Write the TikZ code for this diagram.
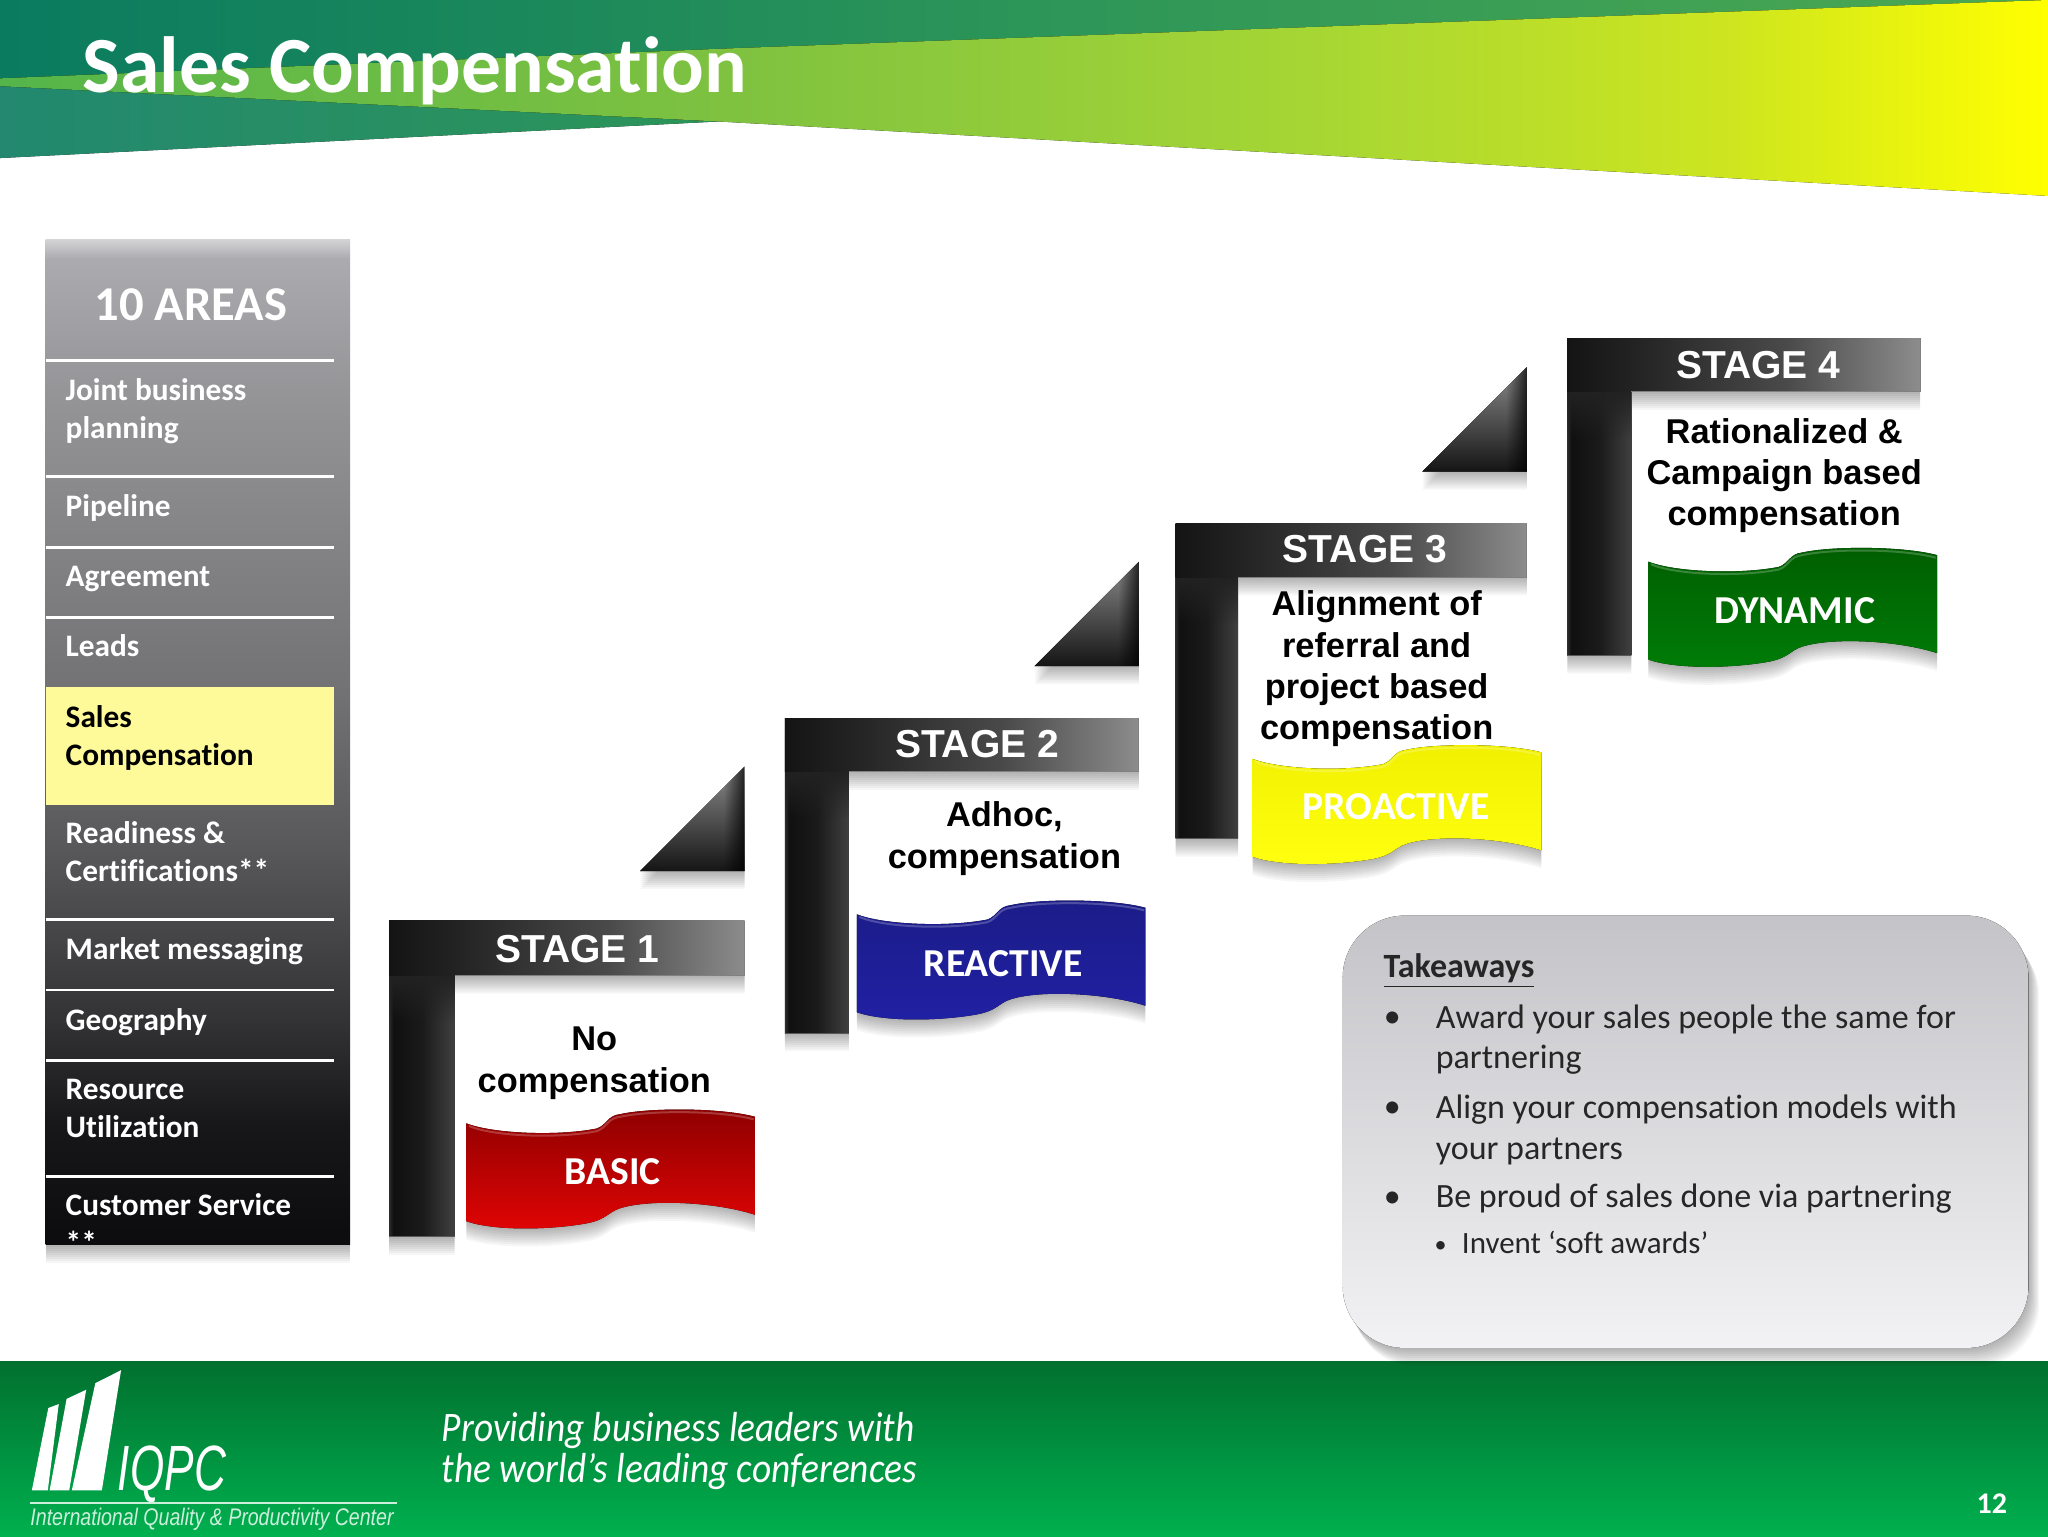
\documentclass[tikz,border=0pt]{standalone}
\usepackage{fontspec}
\usepackage{graphicx}
\usetikzlibrary{fadings}
\setmainfont[Ligatures=NoCommon]{Carlito}
\newfontfamily\arialf{Liberation Sans}
\newfontfamily\tagf[FakeStretch=0.89,Ligatures=NoCommon]{Carlito}
\definecolor{lA}{HTML}{55B54A}\definecolor{lB}{HTML}{7FC240}\definecolor{lC}{HTML}{A6D634}\definecolor{lD}{HTML}{CCE520}\definecolor{lE}{HTML}{FFFF00}
\definecolor{tA}{HTML}{0A7B5F}\definecolor{tB}{HTML}{2C9558}\definecolor{tC}{HTML}{4CA852}
\definecolor{pA}{HTML}{D4D4D6}\definecolor{pB}{HTML}{ABABAF}\definecolor{pC}{HTML}{959598}\definecolor{pC2}{HTML}{727275}\definecolor{pD}{HTML}{58585B}\definecolor{pE}{HTML}{333335}\definecolor{pF}{HTML}{171719}\definecolor{pG}{HTML}{0C0C0E}
\definecolor{hA}{HTML}{141414}\definecolor{hB}{HTML}{222222}\definecolor{hC}{HTML}{4A4A4A}\definecolor{hD}{HTML}{8C8C8C}
\definecolor{vA}{HTML}{2C2C2C}\definecolor{vB}{HTML}{101010}\definecolor{vC}{HTML}{1A1A1A}\definecolor{vD}{HTML}{404040}
\definecolor{fA}{HTML}{01702F}\definecolor{fB}{HTML}{00B04F}
\definecolor{boxA}{HTML}{C4C4C8}\definecolor{boxB}{HTML}{F2F2F4}
\definecolor{rA}{HTML}{8E0000}\definecolor{rB}{HTML}{E00404}
\definecolor{bA}{HTML}{1C1C88}\definecolor{bB}{HTML}{2020A4}
\definecolor{yA}{HTML}{F0F000}\definecolor{yB}{HTML}{FFFF10}
\definecolor{gA}{HTML}{005E00}\definecolor{gB}{HTML}{007C08}
\pgfdeclarehorizontalshading{limesh}{100bp}{color(0bp)=(lA);color(25bp)=(lA);color(43bp)=(lB);color(57bp)=(lC);color(67bp)=(lD);color(75bp)=(lE);color(100bp)=(lE)}
\pgfdeclarehorizontalshading{topsh}{100bp}{color(0bp)=(tA);color(25bp)=(tA);color(50bp)=(tB);color(75bp)=(tC);color(100bp)=(tC)}
\pgfdeclareverticalshading{panelsh}{100bp}{color(0bp)=(pG);color(25bp)=(pG);color(31bp)=(pF);color(36.2bp)=(pE);color(44.7bp)=(pD);color(52.5bp)=(pC2);color(67.4bp)=(pC);color(74bp)=(pB);color(75bp)=(pA);color(100bp)=(pA)}
\pgfdeclarehorizontalshading{armsh}{100bp}{color(0bp)=(hA);color(25bp)=(hA);color(34bp)=(hB);color(56bp)=(hC);color(75bp)=(hD);color(100bp)=(hD)}
\pgfdeclarehorizontalshading{postsh}{100bp}{color(0bp)=(vA);color(25bp)=(vA);color(28bp)=(vB);color(50bp)=(vC);color(75bp)=(vD);color(100bp)=(vD)}
\tikzset{
  titletxt/.style={inner sep=0,text=white,font=\fontsize{39.8}{48}\selectfont\bfseries,anchor=mid west},
  sidetxt/.style={inner sep=0,text=white,font=\fontsize{15.65}{19}\selectfont\bfseries,anchor=west,align=left},
  stagetxt/.style={inner sep=0,text=white,font=\arialf\fontsize{19.5}{23}\selectfont\bfseries,anchor=mid},
  desctxt/.style={inner sep=0,text=black,font=\arialf\fontsize{17.2}{20.6}\selectfont\bfseries,align=center},
  wavetxt/.style={inner sep=0,text=white,font=\fontsize{19.8}{22}\selectfont\bfseries,anchor=mid},
  bodytxt/.style={inner sep=0,text=black!85,font=\fontsize{17}{20.2}\selectfont,anchor=west,align=left},
  subtxt/.style={inner sep=0,text=black!85,font=\fontsize{15.5}{18}\selectfont,anchor=mid west},
  tagtxt/.style={inner sep=0,text=white,font=\tagf\fontsize{21}{20.4}\selectfont\itshape,anchor=west,align=left},
  sepline/.style={draw=white,line width=1.4pt},
}
% soft shadow falling below a path given as #1; \sdx is its sideways share
\newcommand\sdx{0}
\newcommand\softshade[1]{%
  \foreach \s in {1,2,...,9}{\path[fill=black,fill opacity=.035,xshift=\s*\sdx*1pt,yshift=-\s*1pt] #1;}}
\newcommand\stagebar[6]{% x0 top innerx innery right bottom
  \softshade{(#1,#2) -- (#5,#2) -- (#5,#4) -- (#3,#4) -- (#3,#6) -- (#1,#6) -- cycle}
  \fill[shading=postsh] (#1,#2) rectangle (#3,#6);
  \fill[hB,path fading=south] (#1,#4) rectangle (#3,#4+36);
  \fill[shading=armsh] (#1,#2) rectangle (#5,#4);
  \draw[draw=white!50!black,line width=.5pt] (#3,#4) -- (#5,#4) -- (#5,#2);
  \draw[draw=white!35!black,line width=.5pt] (#1,#6) -- (#3,#6);
}
\newcommand\tri[3]{% right-angle corner x y, size
  \softshade{(#1-#3,#2) -- (#1,#2) -- (#1,#2-#3) -- cycle}
  \fill[top color=black!45,bottom color=black!92] (#1-#3,#2) -- (#1,#2) -- (#1,#2-#3) -- cycle;
  \begin{scope}
    \clip (#1-#3,#2) -- (#1,#2) -- (#1,#2-#3) -- cycle;
    \fill[black,opacity=.75,path fading=west] (#1-16,#2-#3) rectangle (#1,#2);
  \end{scope}
}
\newcommand\wavepath{(0,0) .. controls (20,8) and (70,10) .. (100,4) .. controls (108,1) and (108,-6) .. (118,-7) .. controls (140,-12) and (195,-12) .. (221,-5) -- (221,70) .. controls (190,60) and (140,58) .. (118,65) .. controls (108,68) and (108,74) .. (90,77) .. controls (60,82) and (20,82) .. (0,75) -- cycle}
\newcommand\wave[4]{% x y topcolor bottomcolor
  \begin{scope}[shift={(#1,#2)}]
    \softshade{\wavepath}
    \fill[top color=#3,bottom color=#4] \wavepath;
    \draw[draw=white,draw opacity=.22,line width=1pt] (2,2) .. controls (20,10) and (70,12) .. (100,6) .. controls (108,3) and (108,-4) .. (118,-5) .. controls (140,-10) and (195,-10) .. (220,-3);
  \end{scope}}
\begin{document}
\begin{tikzpicture}[x=0.65306pt,y=-0.65306pt]
\useasboundingbox (0,0) rectangle (1568,1176);
\fill[white] (0,0) rectangle (1568,1176);
% header
\fill[shading=topsh] (0,0) -- (1568,0) -- (1568,2) -- (560,38) -- (0,62) -- cycle;
\fill[left color=white!10!tA,right color=tB] (0,64) -- (550,93) -- (0,121) -- cycle;
\fill[shading=limesh] (0,60) -- (560,37) -- (1568,0) -- (1568,150) -- (550,93) -- (0,66) -- cycle;
\node[titletxt] (title) at (63,67) {Sales Compensation};
% footer
\fill[top color=fA,bottom color=fB] (0,1042) rectangle (1568,1176);
\fill[white] (24.4,1141) -- (37,1078) -- (45,1075) -- (36.6,1141) -- cycle;
\fill[white] (38,1141) -- (51,1071) -- (66,1064) -- (53,1141) -- cycle;
\fill[white] (55,1141) -- (73,1059) -- (92.7,1049) -- (78,1141) -- cycle;
\node[inner sep=0,anchor=base west,text=white,font=\arialf\fontsize{32}{32}\selectfont\itshape] (iqpc) at (90,1141) {\scalebox{.69}[1]{IQPC}};
\draw[draw=white!80!fB,line width=1pt] (23,1151) -- (304,1151);
\node[inner sep=0,anchor=mid west,text=white!80!fB,font=\arialf\fontsize{12}{14}\selectfont\itshape] (intl) at (23,1164) {\scalebox{.815}[1]{International Quality \& Productivity Center}};
\node[tagtxt] (tag) at (338,1111) {Providing business leaders with\\the world’s leading conferences};
\node[inner sep=0,text=white,font=\fontsize{15}{17}\selectfont\bfseries,anchor=mid] (pagenum) at (1525,1155) {12};
% left panel
\softshade{(35,183) rectangle (268,953)}
\begin{scope}
\clip (35,183) rectangle (268,953);
\fill[shading=panelsh] (35,183) rectangle (268,953);
\fill[fill=yellow!40] (35,526) rectangle (256,616);
\foreach \yy in {276,365,419,473,704,758,812,901}{\draw[sepline] (35,\yy) -- (256,\yy);}
\node[inner sep=0,text=white,font=\fontsize{24.3}{28}\selectfont\bfseries,anchor=mid] (areas) at (146,242) {10 AREAS};
\node[sidetxt] (a1) at (50,315) {Joint business\\planning};
\node[sidetxt,anchor=mid west] (a2) at (50,392) {Pipeline};
\node[sidetxt,anchor=mid west] (a3) at (50,445) {Agreement};
\node[sidetxt,anchor=mid west] (a4) at (50,499) {Leads};
\node[sidetxt,text=black] (a5) at (50,565) {Sales\\Compensation};
\node[sidetxt] (a6) at (50,652) {Readiness \&\\Certifications**};
\node[sidetxt,anchor=mid west] (a7) at (50,731) {Market messaging};
\node[sidetxt,anchor=mid west] (a8) at (50,785) {Geography};
\node[sidetxt] (a9) at (50,849) {Resource\\Utilization};
\node[sidetxt] (a10) at (50,937) {Customer Service\\**};
\end{scope}
% stages
\stagebar{298}{705}{348}{747}{570}{947}
\stagebar{601}{550}{650}{591}{872}{791}
\stagebar{900}{401}{948}{442}{1169}{642}
\stagebar{1200}{259}{1249}{300}{1470}{502}
\node[stagetxt] (s1) at (442,733) {STAGE 1};
\node[stagetxt] (s2) at (748,576) {STAGE 2};
\node[stagetxt] (s3) at (1045,427) {STAGE 3};
\node[stagetxt] (s4) at (1346,286) {STAGE 4};
\tri{570}{667}{80}
\tri{872}{510}{80}
\tri{1169}{361}{80}
\wave{357}{860}{rA}{rB}
\wave{656}{700}{bA}{bB}
\wave{959}{581}{yA}{yB}
\wave{1262}{430}{gA}{gB}
\node[wavetxt] (w1) at (469,903) {BASIC};
\node[wavetxt] (w2) at (768,744) {REACTIVE};
\node[wavetxt] (w3) at (1069,624) {PROACTIVE};
\node[wavetxt] (w4) at (1374,474) {DYNAMIC};
\node[desctxt] (d1) at (455,814) {No\\compensation};
\node[desctxt] (d2) at (769,642) {Adhoc,\\compensation};
\node[desctxt] (d3) at (1054,512) {Alignment of\\referral and\\project based\\compensation};
\node[desctxt] (d4) at (1366,364) {Rationalized \&\\Campaign based\\compensation};
% takeaways
\begingroup
\renewcommand\sdx{0.6}
\softshade{[rounded corners=31pt] (1028,701) rectangle (1553,1032)}
\endgroup
\fill[top color=boxA,bottom color=boxB,rounded corners=31pt] (1028,701) rectangle (1553,1032);
\node[bodytxt,anchor=mid west] (tk) at (1059,745) {\underline{\textbf{Takeaways}}};
\node[bodytxt,anchor=mid] (b1) at (1066,783) {•};
\node[bodytxt] (t1) at (1099,796) {Award your sales people the same for\\partnering};
\node[bodytxt,anchor=mid] (b2) at (1066,852) {•};
\node[bodytxt] (t2) at (1099,865) {Align your compensation models with\\your partners};
\node[bodytxt,anchor=mid] (b3) at (1066,921) {•};
\node[bodytxt,anchor=mid west] (t3) at (1099,921) {Be proud of sales done via partnering};
\node[subtxt,anchor=mid,font=\fontsize{12}{14}\selectfont] (b4) at (1103,955) {•};
\node[subtxt] (t4) at (1119,956) {Invent ‘soft awards’};
\end{tikzpicture}
\end{document}
